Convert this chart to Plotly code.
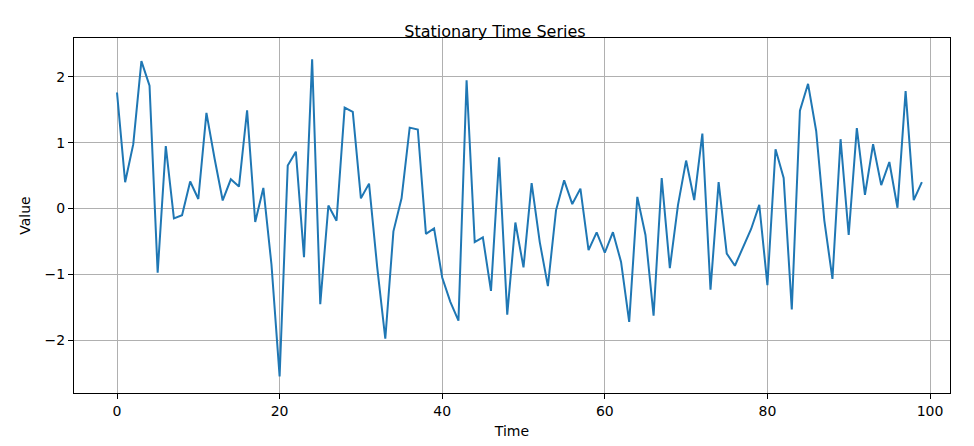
import plotly.graph_objects as go

values = [1.764, 0.400, 0.979, 2.241, 1.868, -0.977, 0.950, -0.151, -0.103, 0.411,
          0.144, 1.454, 0.761, 0.122, 0.444, 0.334, 1.494, -0.205, 0.313, -0.854,
          -2.553, 0.654, 0.864, -0.742, 2.270, -1.454, 0.046, -0.187, 1.533, 1.469,
          0.155, 0.378, -0.888, -1.981, -0.348, 0.156, 1.230, 1.202, -0.387, -0.302,
          -1.049, -1.420, -1.706, 1.951, -0.510, -0.438, -1.253, 0.777, -1.614, -0.213,
          -0.896, 0.387, -0.511, -1.181, -0.028, 0.428, 0.067, 0.302, -0.634, -0.363,
          -0.673, -0.360, -0.813, -1.726, 0.177, -0.402, -1.630, 0.463, -0.907, 0.052,
          0.729, 0.129, 1.139, -1.235, 0.402, -0.685, -0.871, -0.579, -0.312, 0.056,
          -1.165, 0.901, 0.466, -1.536, 1.488, 1.896, 1.179, -0.180, -1.071, 1.054,
          -0.403, 1.222, 0.208, 0.977, 0.356, 0.707, 0.011, 1.786, 0.127, 0.402]
time = list(range(len(values)))

fig = go.Figure(go.Scatter(x=time, y=values, mode="lines",
                           line=dict(color="#1f77b4", width=2)))

axis = dict(showline=True, linecolor="black", mirror=True, ticks="outside",
            ticklen=5, tickcolor="black", gridcolor="#b0b0b0", gridwidth=1,
            zeroline=False, tickfont=dict(size=14, color="black"))
fig.update_layout(
    width=974, height=446, paper_bgcolor="white", plot_bgcolor="white",
    font=dict(family="DejaVu Sans", color="black"),
    title=dict(text="Stationary Time Series", x=0.5, xanchor="center",
               y=0.96, font=dict(size=16)),
    margin=dict(l=66, r=32, t=30, b=61),
    showlegend=False,
)
fig.update_xaxes(axis, range=[-5.29, 102.46], dtick=20,
                 title=dict(text="Time", font=dict(size=14), standoff=8))
fig.update_yaxes(axis, range=[-2.806, 2.593], dtick=1,
                 title=dict(text="Value", font=dict(size=14), standoff=10))

fig.write_html("out.html")
